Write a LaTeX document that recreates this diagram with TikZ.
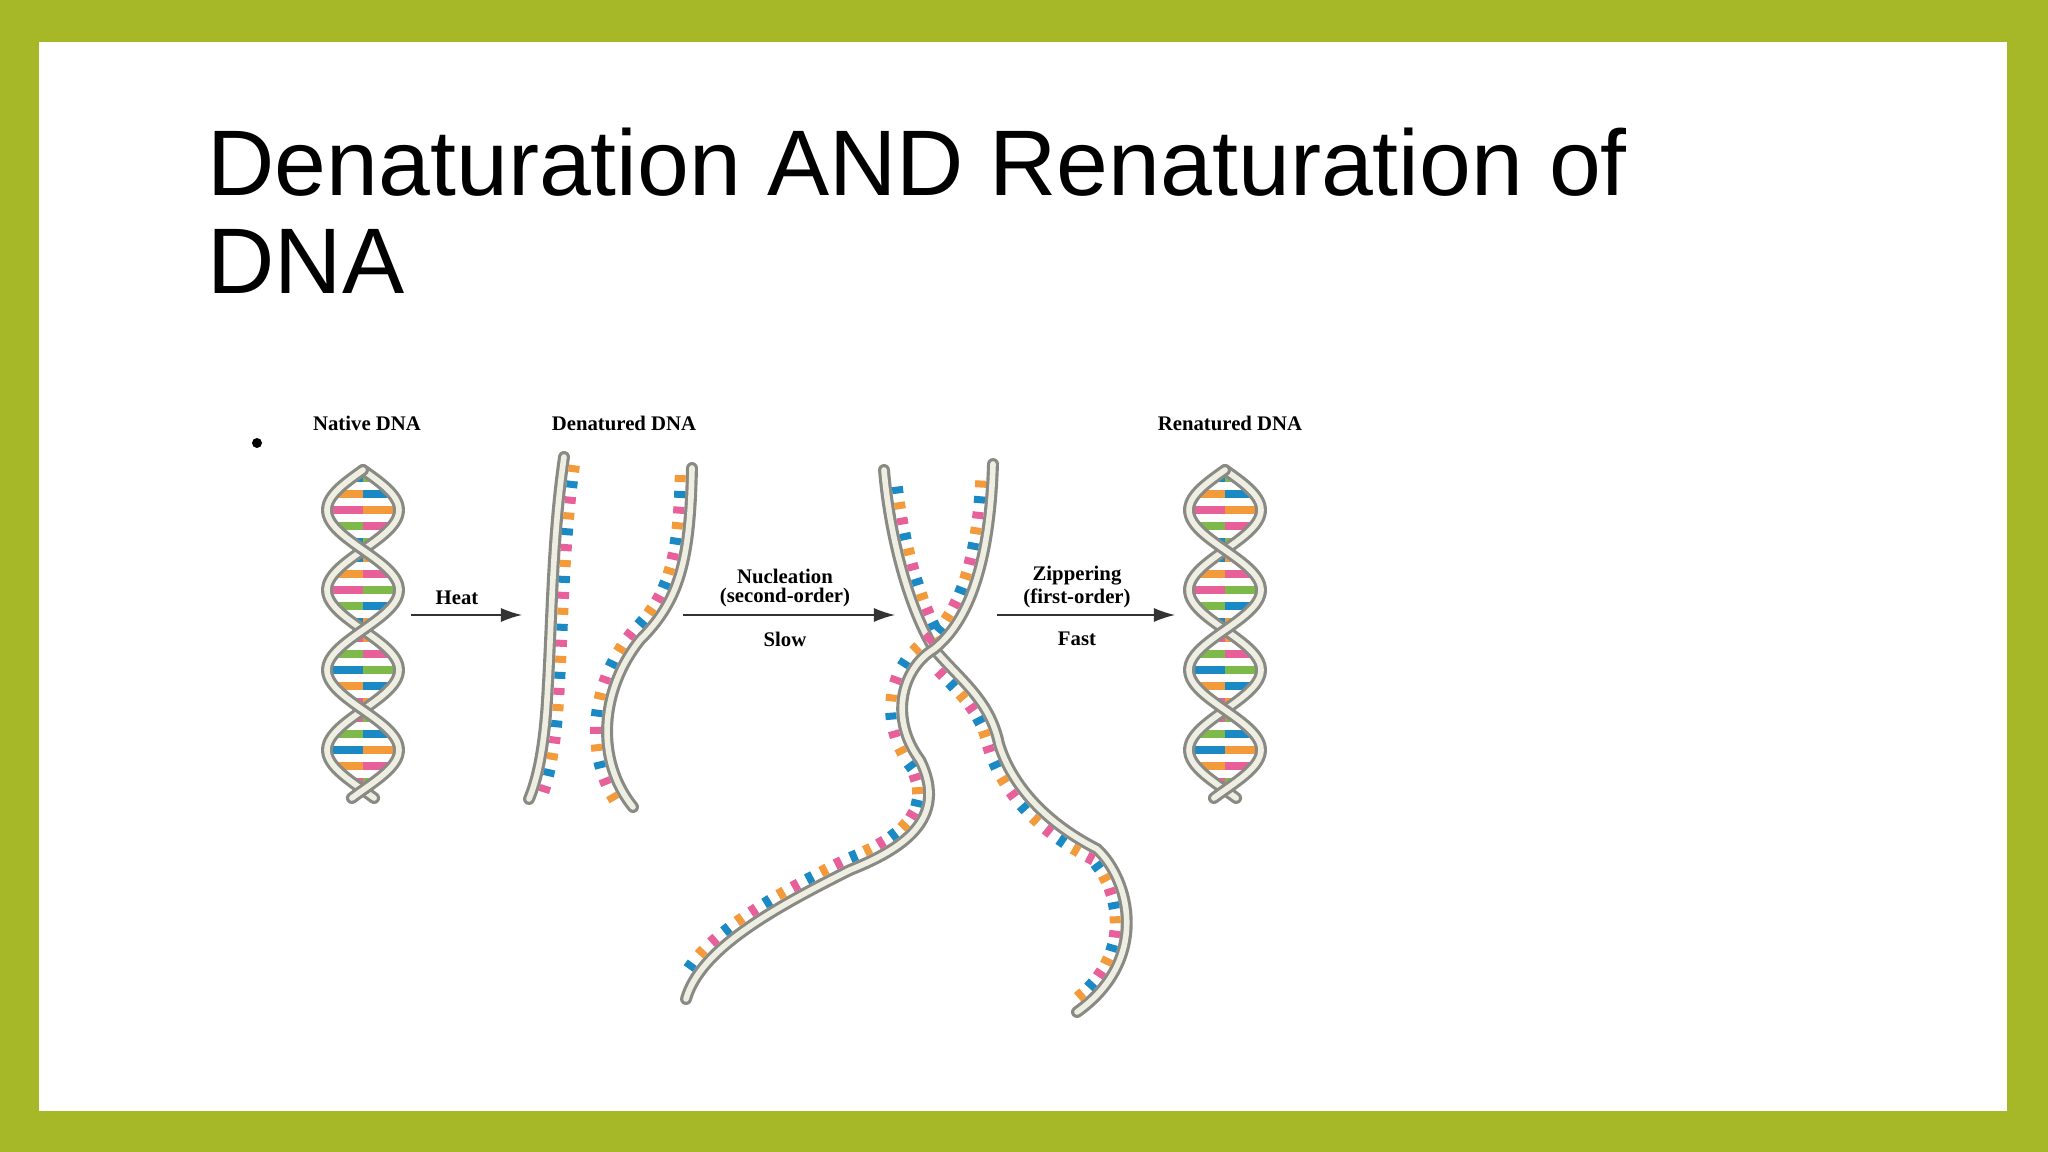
\documentclass[tikz,border=0pt]{standalone}
\usepackage{fontspec}
\setmainfont{Liberation Sans}
\newfontfamily\serifb{Liberation Serif}
\usetikzlibrary{decorations.markings,arrows.meta}
\definecolor{frame}{HTML}{A6B828}
\definecolor{bpink}{HTML}{E8609A}
\definecolor{bor}{HTML}{F39A3A}
\definecolor{bblue}{HTML}{1B8AC4}
\definecolor{bgreen}{HTML}{7DBA4A}
\definecolor{rib}{HTML}{EFEEE2}
\definecolor{ribedge}{HTML}{8A8A85}
\newcommand\pickcol[1]{\ifcase#1\colorlet{cA}{bpink}\or\colorlet{cA}{bor}\or\colorlet{cA}{bblue}\else\colorlet{cA}{bgreen}\fi}
\newcommand\tickmark[1]{\pgfmathtruncatemacro\kk{mod(\pgfkeysvalueof{/pgf/decoration/mark info/sequence number}*5+floor(\pgfkeysvalueof{/pgf/decoration/mark info/sequence number}/3),4)}\pickcol{\kk}\fill[cA] (-3.5,{#1*6}) rectangle (3.5,{#1*17});}
\tikzset{
  ribbon/.style={draw=ribedge,double=rib,double distance=1.6pt,line width=0.9pt,line cap=round},
  ticks/.style={postaction={decorate,decoration={markings,mark=between positions 0.03 and 0.97 step 1.6mm with {\tickmark{#1}}}}},
  lab/.style={font=\serifb\bfseries\fontsize{5.9}{7}\selectfont,inner sep=0pt},
  arr/.style={-{Latex[length=6pt,width=4pt]},line width=0.4pt,black!80}
}
\newcommand\helix[2]{% center x, top y
  \foreach \t in {8,24,...,312}{
    \pgfmathsetmacro\s{sin(\t*2.25)}
    \pgfmathsetmacro\as{abs(\s)}
    \ifdim\as pt>0.3pt
      \pgfmathtruncatemacro\ka{mod(\t*7/16,4)}
      \pgfmathtruncatemacro\kb{mod(\t*3/16+1,4)}
      \pickcol{\ka}\fill[cA] ({#1+36*\s},{#2+\t-4}) rectangle ({#1},{#2+\t+4});
      \pickcol{\kb}\fill[cA] ({#1},{#2+\t-4}) rectangle ({#1-36*\s},{#2+\t+4});
    \fi}
  \draw[ribbon] plot[smooth,domain=0:328,samples=70] ({#1+36*sin(\x*2.25)},{#2+\x});
  \draw[ribbon] plot[smooth,domain=0:328,samples=70] ({#1-36*sin(\x*2.25)},{#2+\x});
}
\begin{document}
\begin{tikzpicture}[x=0.01cm,y=-0.01cm]
\fill[frame] (0,0) rectangle (2048,1152);
\fill[white] (39,42) rectangle (2007,1111);
\node[anchor=base west,inner sep=0,align=left,font=\fontsize{26.5}{27.9}\selectfont] (title) at (207,294) {Denaturation AND Renaturation of\\DNA};
\fill (257,443) circle (5);
\node[lab] (nat) at (367,423) {Native DNA};
\node[lab] (den) at (624,423) {Denatured DNA};
\node[lab] (ren) at (1230,423) {Renatured DNA};
\helix{363}{470}
\helix{1225}{470}
% denatured strands
\draw[ribbon,ticks=-1] (564,457) .. controls (552,540) and (552,620) .. (547,700) .. controls (544,750) and (537,780) .. (529,799);
\draw[ribbon,ticks=1] (692,468) .. controls (690,560) and (680,600) .. (640,640) .. controls (600,690) and (595,760) .. (633,807);
% nucleation
\coordinate (x) at (934,649);
\draw[ribbon,ticks=-1] (1077,1012) .. controls (1150,960) and (1130,880) .. (1097,849) .. controls (1040,820) and (1010,780) .. (999,744) .. controls (990,700) and (960,680) .. (x);
\draw[ribbon,ticks=1] (x) .. controls (910,610) and (890,540) .. (884,470);
\draw[ribbon,ticks=1] (993,464) .. controls (990,560) and (970,620) .. (x) .. controls (900,670) and (890,720) .. (920,760) .. controls (950,820) and (900,850) .. (850,870) .. controls (770,910) and (700,950) .. (686,999);
% arrows
\coordinate (a1) at (411,615); \coordinate (b1) at (522,615);
\coordinate (a2) at (683,615); \coordinate (b2) at (895,615);
\coordinate (a3) at (997,615); \coordinate (b3) at (1175,615);
\draw[arr] (a1) -- (b1);
\draw[arr] (a2) -- (b2);
\draw[arr] (a3) -- (b3);
\node[lab] (heat) at (457,598) {Heat};
\node[lab] (nuc) at (785,576) {Nucleation};
\node[lab] (so) at (785,598) {(second-order)};
\node[lab] (slow) at (785,639) {Slow};
\node[lab] (zip) at (1077,576) {Zippering};
\node[lab] (fo) at (1077,598) {(first-order)};
\node[lab] (fast) at (1077,639) {Fast};
\end{tikzpicture}
\end{document}
